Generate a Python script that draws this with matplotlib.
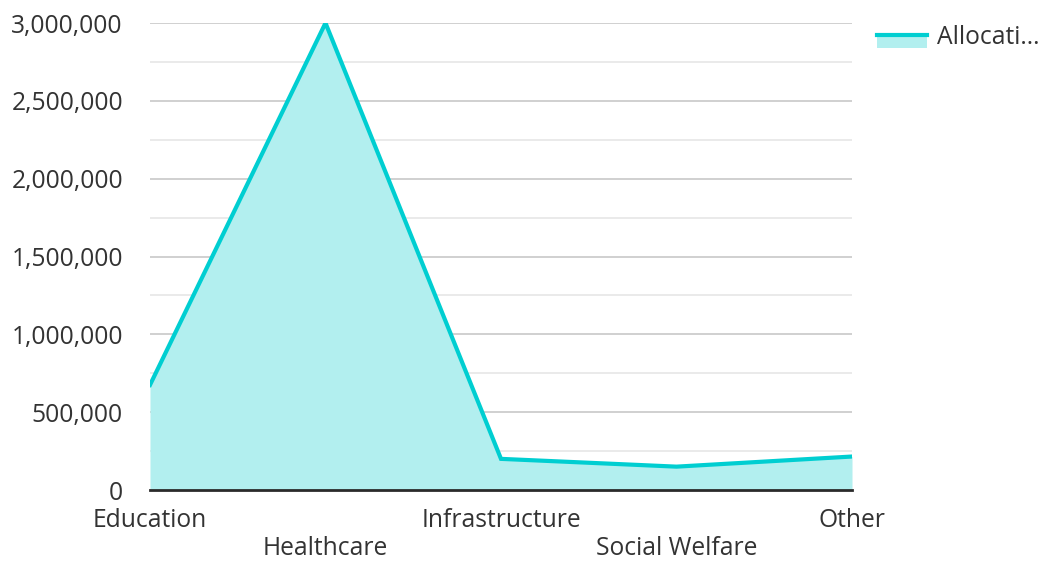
import matplotlib
matplotlib.use("Agg")
import matplotlib.pyplot as plt
from matplotlib.ticker import FuncFormatter, MultipleLocator
from matplotlib.lines import Line2D
from matplotlib.patches import Rectangle

categories = ["Education", "Healthcare", "Infrastructure", "Social Welfare", "Other"]
allocation = [675000, 3000000, 200000, 150000, 215000]
series_name = "Allocati..."

plt.rcParams['font.family'] = ['Open Sans', 'Noto Sans', 'DejaVu Sans']
text_color = "#333333"
line_color = "#00CED1"
fill_color = "#B2EFEF"
fs = 17.7

W, H = 1042, 562
fig = plt.figure(figsize=(W / 100, H / 100), dpi=100)
ax = fig.add_axes([150 / W, (H - 490) / H, (852 - 150) / W, (490 - 23) / H])

x = list(range(len(categories)))
ax.fill_between(x, 0, allocation, color=fill_color, linewidth=0, zorder=2)
ax.plot(x, allocation, color=line_color, linewidth=3, zorder=3, solid_joinstyle="miter")

ax.set_xlim(0, len(categories) - 1)
ax.set_ylim(0, 3000000)
ax.yaxis.set_major_locator(MultipleLocator(500000))
ax.yaxis.set_minor_locator(MultipleLocator(250000))
ax.yaxis.set_major_formatter(FuncFormatter(lambda v, p: f"{int(v):,}"))
ax.grid(True, which="major", axis="y", color="#C8C8C8", linewidth=1.2, zorder=1)
ax.grid(True, which="minor", axis="y", color="#E6E6E6", linewidth=1.2, zorder=1)
ax.set_axisbelow(True)

for s in ["top", "right", "left"]:
    ax.spines[s].set_visible(False)
ax.spines["bottom"].set_color("#2a2a2a")
ax.spines["bottom"].set_linewidth(2)
ax.spines["bottom"].set_zorder(5)

ax.tick_params(axis="y", which="both", length=0, pad=19.5, labelsize=fs, labelcolor=text_color)
ax.tick_params(axis="x", length=0, labelsize=fs, labelcolor=text_color)
ax.set_xticks(x)
ax.set_xticklabels(["" for _ in categories])
for i, c in enumerate(categories):
    off = 37 if i % 2 == 0 else 65
    ax.annotate(c, xy=(i, 0), xycoords=("data", "axes fraction"),
                xytext=(0, -off), textcoords="offset pixels",
                ha="center", va="baseline", fontsize=fs, color=text_color,
                annotation_clip=False)

# legend
fig.patches.append(Rectangle((877 / W, (H - 48) / H), 50 / W, 14 / H,
                             transform=fig.transFigure, facecolor=fill_color,
                             edgecolor="none"))
fig.lines.append(Line2D([877 / W, 927 / W], [(H - 35) / H, (H - 35) / H],
                        transform=fig.transFigure, color=line_color, linewidth=3))
fig.text(937 / W, (H - 37) / H, series_name, ha="left", va="center",
         fontsize=fs, color=text_color)

fig.savefig("out.png", dpi=100)
